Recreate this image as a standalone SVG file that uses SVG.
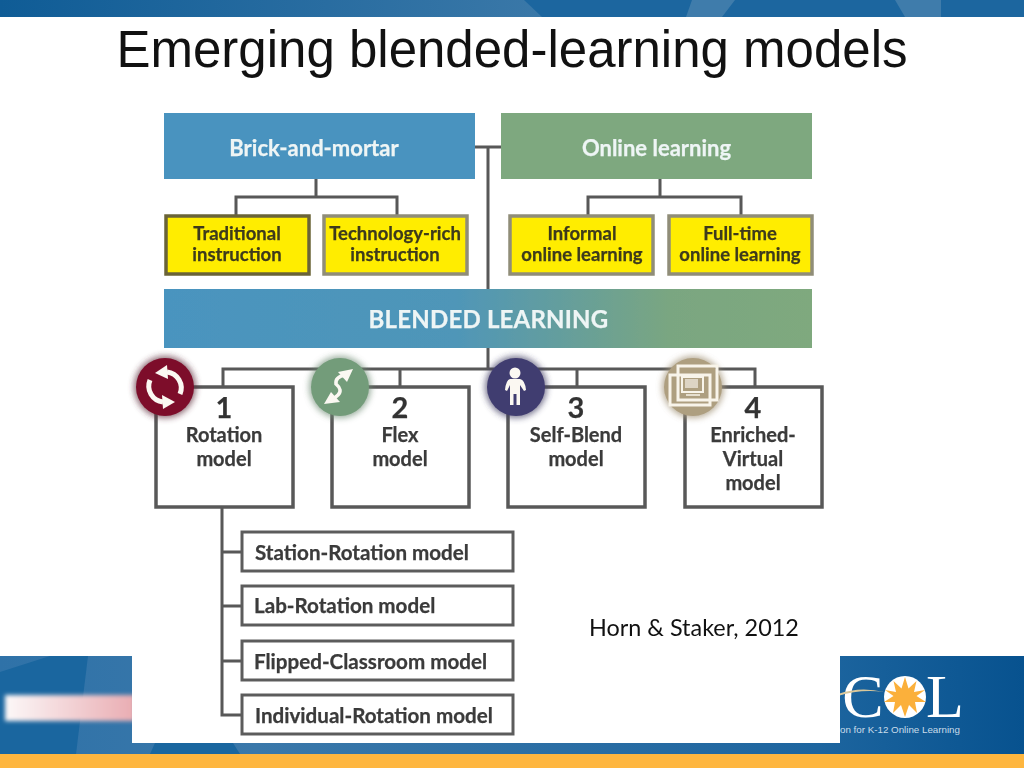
<svg xmlns="http://www.w3.org/2000/svg" width="1024" height="768" viewBox="0 0 1024 768">
<style>
.t{font-family:"Lato","Liberation Sans",sans-serif;font-weight:700;text-anchor:middle;fill:#3a3a3a;stroke:#3a3a3a;stroke-width:.25}
.w{fill:#eef5f5;stroke:#eef5f5;font-size:22px}
.y{font-size:18.500px;fill:#3d3a1c;stroke:#3d3a1c}
.m{font-size:20px}
.n{font-size:29px;fill:#333}
.s{font-size:20.600px;text-anchor:start}
.c{fill:none;stroke:#595959;stroke-width:3}
.b{fill:#fff;stroke:#595959;stroke-width:3.5}
.sb{fill:#fff;stroke:#5c5c5c;stroke-width:3}
.i{fill:#fbf8f2}
.il{fill:none;stroke:#f8f4ea;stroke-width:3}
.ia{fill:none;stroke:#fbf8f2;stroke-width:5}
</style>
<defs>
<linearGradient id="top" gradientUnits="userSpaceOnUse" x1="0" x2="540" y1="0" y2="0"><stop offset="0" stop-color="#0f5c96"/><stop offset="1" stop-color="#3a78a8"/></linearGradient>
<linearGradient id="bot" x1="0" x2="1" y1="0" y2="0"><stop offset="0" stop-color="#2f72a8"/><stop offset=".25" stop-color="#3a78aa"/><stop offset=".8" stop-color="#1d659f"/><stop offset="1" stop-color="#07528f"/></linearGradient>
<linearGradient id="bl" x1="0" x2="1" y1="0" y2="0"><stop offset="0" stop-color="#4a94bf"/><stop offset=".45" stop-color="#4f96b8"/><stop offset=".78" stop-color="#7aa681"/><stop offset="1" stop-color="#7fa97e"/></linearGradient>
<linearGradient id="pk" x1="0" x2="1" y1="0" y2="0"><stop offset="0" stop-color="#fcf8f8"/><stop offset="1" stop-color="#e9acb2"/></linearGradient>
<filter id="sh" x="-30%" y="-30%" width="160%" height="160%"><feGaussianBlur stdDeviation="3"/></filter>
<filter id="b5" x="-5%" y="-40%" width="110%" height="180%"><feGaussianBlur stdDeviation="2"/></filter>
<filter id="soft" filterUnits="userSpaceOnUse" x="100" y="90" width="760" height="660"><feGaussianBlur stdDeviation=".45"/></filter>
</defs>

<g id="background">
<rect width="1024" height="768" fill="#fff"/>
<rect width="1024" height="17" fill="#1c669f"/>
<path d="M0 0H524L542 17H0Z" fill="url(#top)"/>
<path d="M692 0H735L722 17H686ZM895 0H941V17H905Z" fill="#3f7cab"/>
<rect y="656" width="1024" height="98" fill="url(#bot)"/>
<path d="M0 672L50 656H88L76 754H0Z" fill="#1a669f"/>
<path d="M155 743H233L240 754H150Z" fill="#1a669f"/>
<rect y="754" width="1024" height="14" fill="#feb63f"/>
<rect x="5" y="695" width="130" height="26" fill="url(#pk)" filter="url(#b5)"/>
</g>

<g id="logo">
<text x="863" y="717" font-family="Liberation Serif,serif" font-size="62" fill="#fff" text-anchor="middle">C</text>
<text x="945" y="717" font-family="Liberation Serif,serif" font-size="62" fill="#fff" text-anchor="middle">L</text>
<path d="M838 694Q860 686 884 692Q860 689 838 696Z" fill="#d9c79a"/>
<circle cx="905" cy="697" r="21" fill="#fff"/>
<polygon points="905,677 908.500,688.500 916.500,681 914,692 925,690 916.500,696 926,702 915,702 917,713 909,705 905,717 901,705 893,713 895,702 884,702 893.500,696 885,690 896,692 893.500,681 901.500,688.500" fill="#fbb03b"/>
<text x="840" y="733" font-family="Liberation Sans,sans-serif" font-size="9.800" fill="#c9dcea" textLength="120">on for K-12 Online Learning</text>
</g>

<rect id="panel" x="132" y="656" width="708" height="87" fill="#fff"/>

<text id="title" x="512" y="67" font-family="Liberation Sans,sans-serif" font-size="51" text-anchor="middle" fill="#111">Emerging blended-learning models</text>

<g filter="url(#soft)">
<g id="connectors">
<path class="c" d="M475 147H488M501 147H488M488 147V289M488 348V369"/>
<path class="c" d="M316 179V197M236 215V197H397V215"/>
<path class="c" d="M660 179V197M588 215V197H741V215"/>
<path class="c" d="M223 387V369H755V387M400 369V387M577 369V387"/>
<path class="c" d="M222 507V715H242M222 552H242M222 606H242M222 661H242"/>
</g>

<g id="brick"><rect x="164" y="113" width="311" height="66" fill="#4a93bf"/><text class="t w" x="314" y="156">Brick-and-mortar</text></g>
<g id="online"><rect x="501" y="113" width="311" height="66" fill="#7ea87f"/><text class="t w" x="656.500" y="156">Online learning</text></g>

<g id="traditional"><rect x="166" y="216" width="143" height="58" fill="#ffed00" stroke="#6b6337" stroke-width="3.500"/><text class="t y" x="237" y="240">Traditional</text><text class="t y" x="237" y="261">instruction</text></g>
<g id="techrich"><rect x="324" y="216" width="143" height="58" fill="#ffed00" stroke="#908d78" stroke-width="3.500"/><text class="t y" x="395" y="240">Technology-rich</text><text class="t y" x="395" y="261">instruction</text></g>
<g id="informal"><rect x="510" y="216" width="143" height="58" fill="#ffed00" stroke="#908d78" stroke-width="3.500"/><text class="t y" x="582" y="240">Informal</text><text class="t y" x="582" y="261">online learning</text></g>
<g id="fulltime"><rect x="669" y="216" width="143" height="58" fill="#ffed00" stroke="#908d78" stroke-width="3.500"/><text class="t y" x="740" y="240">Full-time</text><text class="t y" x="740" y="261">online learning</text></g>

<g id="blended"><rect x="164" y="289" width="648" height="59" fill="url(#bl)"/><text class="t" x="488.500" y="328" font-size="24" style="fill:#eef5f5;stroke:#eef5f5" letter-spacing=".2">BLENDED LEARNING</text></g>

<g id="m1"><rect class="b" x="156" y="387" width="137" height="120"/><text class="t n" x="224" y="418">1</text><text class="t m" x="224" y="442">Rotation</text><text class="t m" x="224" y="466">model</text></g>
<g id="m2"><rect class="b" x="332" y="387" width="137" height="120"/><text class="t n" x="400" y="418">2</text><text class="t m" x="400" y="442">Flex</text><text class="t m" x="400" y="466">model</text></g>
<g id="m3"><rect class="b" x="508" y="387" width="137" height="120"/><text class="t n" x="576" y="418">3</text><text class="t m" x="576" y="442">Self-Blend</text><text class="t m" x="576" y="466">model</text></g>
<g id="m4"><rect class="b" x="685" y="387" width="137" height="120"/><text class="t n" x="753" y="418">4</text><text class="t m" x="753" y="442">Enriched-</text><text class="t m" x="753" y="466">Virtual</text><text class="t m" x="753" y="490">model</text></g>

<g id="icon1"><circle cx="165" cy="387" r="31" fill="#5c2a38" opacity=".7" filter="url(#sh)"/><circle cx="165" cy="387" r="29" fill="#7d0f2c"/>
<path class="ia" d="M180 394A16 16 0 0 0 167 372"/><polygon class="i" points="155,373 167,365 168,379"/>
<path class="ia" d="M150 380A16 16 0 0 0 163 402"/><polygon class="i" points="175,402 162,395 163,409"/></g>
<g id="icon2"><circle cx="340" cy="387" r="31" fill="#6f8c75" opacity=".7" filter="url(#sh)"/><circle cx="340" cy="387" r="29" fill="#739c7a"/>
<path class="ia" style="stroke-width:3.500" d="M345 375Q335 377 336 384Q343 390 338 395Q335 398 331 400"/>
<polygon class="i" points="353,369 338,372 347,382"/><polygon class="i" points="324,404 331,392 340,402"/></g>
<g id="icon3"><circle cx="516" cy="387" r="31" fill="#3d3a60" opacity=".7" filter="url(#sh)"/><circle cx="516" cy="387" r="29" fill="#403c70"/>
<circle class="i" cx="515" cy="373" r="5.500"/><path class="i" d="M510 379H520Q525 380 526 390L524 391L520 385V405H516.500V394H513.500V405H510V385L507 391L505 390Q506 380 510 379Z"/></g>
<g id="icon4"><circle cx="693" cy="387" r="31" fill="#a89a80" opacity=".8" filter="url(#sh)"/><circle cx="693" cy="387" r="29" fill="#ae9f80"/>
<path class="il" d="M678 366H717V400H678ZM678 366V375M670 375H710V405H670Z"/>
<path class="il" style="stroke-width:2" d="M682 377H703V392H682Z"/><rect class="i" x="685" y="379" width="13" height="9" opacity=".6"/><path class="il" style="stroke-width:1.500" d="M686 395H700"/></g>

<g id="station"><rect class="sb" x="242" y="532" width="271" height="39"/><text class="t s" x="255" y="560">Station-Rotation model</text></g>
<g id="lab"><rect class="sb" x="242" y="586" width="271" height="39"/><text class="t s" x="254" y="613">Lab-Rotation model</text></g>
<g id="flipped"><rect class="sb" x="242" y="641" width="271" height="39"/><text class="t s" x="254" y="669">Flipped-Classroom model</text></g>
<g id="individual"><rect class="sb" x="242" y="695" width="271" height="39"/><text class="t s" x="255" y="723">Individual-Rotation model</text></g>
</g>

<text id="citation" x="589" y="636" font-family="Lato,sans-serif" font-size="23.400" fill="#111">Horn &amp; Staker, 2012</text>
</svg>
